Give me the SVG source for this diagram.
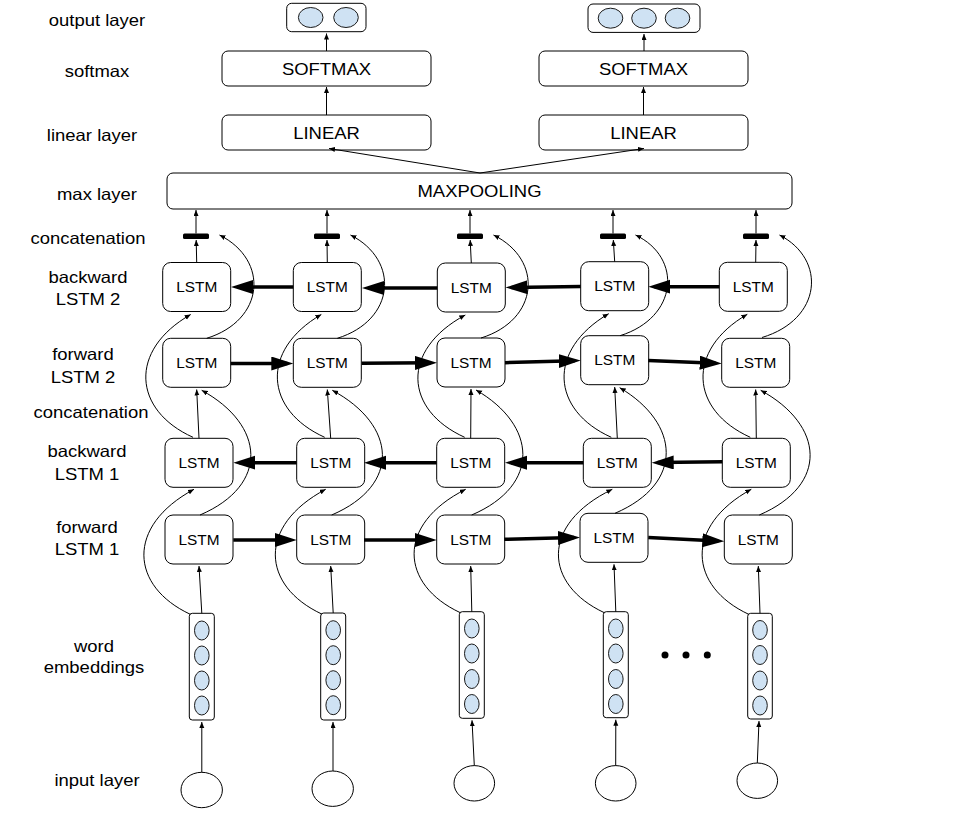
<svg xmlns="http://www.w3.org/2000/svg" width="960" height="815" viewBox="0 0 960 815">
<defs>
<style>
.box{fill:#fff;stroke:#000;stroke-width:1}
.neuron{fill:#cfe2f3;stroke:#1a1a1a;stroke-width:1}
.inp{fill:#fff;stroke:#000;stroke-width:1}
.bar{fill:#000}
.lbl{font-family:"Liberation Sans",Arial,sans-serif;font-size:16.5px;fill:#000;text-anchor:middle}
.btxt{font-family:"Liberation Sans",Arial,sans-serif;font-size:16.5px;fill:#000;text-anchor:middle}
.ltxt{font-family:"Liberation Sans",Arial,sans-serif;font-size:14px;fill:#000;text-anchor:middle}
.thin{fill:none;stroke:#000;stroke-width:1;marker-end:url(#ah)}
.thick{fill:none;stroke:#000;stroke-width:3.5;marker-end:url(#big)}
</style>
<marker id="ah" markerUnits="userSpaceOnUse" markerWidth="7" markerHeight="6" refX="6" refY="2.5" orient="auto">
<path d="M0,0 L6,2.5 L0,5 z" fill="#000"/>
</marker>
<marker id="big" markerUnits="userSpaceOnUse" markerWidth="23" markerHeight="15" refX="16" refY="7" orient="auto">
<path d="M0,0 L22,7 L0,14 z" fill="#000"/>
</marker>
</defs>
<rect x="0" y="0" width="960" height="815" fill="#fff"/>

<g id="labels">
<text class="lbl" transform="translate(97,26) scale(1.12,1)">output layer</text>
<text class="lbl" transform="translate(97,77) scale(1.12,1)">softmax</text>
<text class="lbl" transform="translate(92,141) scale(1.12,1)">linear layer</text>
<text class="lbl" transform="translate(97,200) scale(1.12,1)">max layer</text>
<text class="lbl" transform="translate(88,244) scale(1.12,1)">concatenation</text>
<text class="lbl" transform="translate(88,283) scale(1.12,1)">backward</text>
<text class="lbl" transform="translate(88,305) scale(1.12,1)">LSTM 2</text>
<text class="lbl" transform="translate(83,360) scale(1.12,1)">forward</text>
<text class="lbl" transform="translate(83,383) scale(1.12,1)">LSTM 2</text>
<text class="lbl" transform="translate(91,418) scale(1.12,1)">concatenation</text>
<text class="lbl" transform="translate(87,457) scale(1.12,1)">backward</text>
<text class="lbl" transform="translate(87,480) scale(1.12,1)">LSTM 1</text>
<text class="lbl" transform="translate(87,533) scale(1.12,1)">forward</text>
<text class="lbl" transform="translate(87,555) scale(1.12,1)">LSTM 1</text>
<text class="lbl" transform="translate(94,652) scale(1.12,1)">word</text>
<text class="lbl" transform="translate(94,673) scale(1.12,1)">embeddings</text>
<text class="lbl" transform="translate(97,786) scale(1.12,1)">input layer</text>
</g>

<g id="out1">
<rect class="box" x="286.7" y="3.3" width="79.3" height="28.4" rx="5"/>
<ellipse class="neuron" cx="310.7" cy="17.5" rx="12.3" ry="10"/>
<ellipse class="neuron" cx="346" cy="17.5" rx="12.3" ry="10"/>
</g>
<g id="out2">
<rect class="box" x="588" y="4" width="112" height="28.4" rx="5"/>
<ellipse class="neuron" cx="610.5" cy="18.2" rx="12.3" ry="10"/>
<ellipse class="neuron" cx="644" cy="18.2" rx="12.3" ry="10"/>
<ellipse class="neuron" cx="677.5" cy="18.2" rx="12.3" ry="10"/>
</g>
<g id="softmax1"><rect class="box" x="222" y="51" width="209" height="35" rx="6"/><text class="btxt" transform="translate(326.5,74.5) scale(1.12,1)">SOFTMAX</text></g>
<g id="softmax2"><rect class="box" x="539" y="51" width="209" height="35" rx="6"/><text class="btxt" transform="translate(643.5,74.5) scale(1.12,1)">SOFTMAX</text></g>
<g id="linear1"><rect class="box" x="222" y="115" width="209" height="35" rx="6"/><text class="btxt" transform="translate(326.5,138.5) scale(1.12,1)">LINEAR</text></g>
<g id="linear2"><rect class="box" x="539" y="115" width="209" height="35" rx="6"/><text class="btxt" transform="translate(643.5,138.5) scale(1.12,1)">LINEAR</text></g>
<g id="maxpool"><rect class="box" x="167" y="173" width="625" height="36" rx="6"/><text class="btxt" transform="translate(479.5,197) scale(1.12,1)">MAXPOOLING</text></g>

<g id="concat1"><rect class="bar" x="183" y="233.5" width="26" height="5.5" rx="1.5"/></g>
<g id="concat2"><rect class="bar" x="314" y="233.5" width="26" height="5.5" rx="1.5"/></g>
<g id="concat3"><rect class="bar" x="457" y="233.5" width="26" height="5.5" rx="1.5"/></g>
<g id="concat4"><rect class="bar" x="600" y="233.5" width="26" height="5.5" rx="1.5"/></g>
<g id="concat5"><rect class="bar" x="743" y="233.5" width="26" height="5.5" rx="1.5"/></g>

<g id="bwd2_1"><rect class="box" x="162.7" y="262.5" width="68" height="49" rx="8"/><text class="ltxt" transform="translate(196.7,292) scale(1.1,1)">LSTM</text></g>
<g id="bwd2_2"><rect class="box" x="293.3" y="262.5" width="68" height="49" rx="8"/><text class="ltxt" transform="translate(327.3,292) scale(1.1,1)">LSTM</text></g>
<g id="bwd2_3"><rect class="box" x="437.3" y="263" width="68" height="49" rx="8"/><text class="ltxt" transform="translate(471.3,292.5) scale(1.1,1)">LSTM</text></g>
<g id="bwd2_4"><rect class="box" x="580.7" y="261.7" width="68" height="49" rx="8"/><text class="ltxt" transform="translate(614.7,291.2) scale(1.1,1)">LSTM</text></g>
<g id="bwd2_5"><rect class="box" x="719.3" y="262.3" width="68" height="49" rx="8"/><text class="ltxt" transform="translate(753.3,291.8) scale(1.1,1)">LSTM</text></g>

<g id="fwd2_1"><rect class="box" x="162.7" y="338.3" width="68" height="49" rx="8"/><text class="ltxt" transform="translate(196.7,367.8) scale(1.1,1)">LSTM</text></g>
<g id="fwd2_2"><rect class="box" x="293.3" y="338.3" width="68" height="49" rx="8"/><text class="ltxt" transform="translate(327.3,367.8) scale(1.1,1)">LSTM</text></g>
<g id="fwd2_3"><rect class="box" x="437" y="338" width="68" height="49" rx="8"/><text class="ltxt" transform="translate(471,367.5) scale(1.1,1)">LSTM</text></g>
<g id="fwd2_4"><rect class="box" x="580.7" y="335.7" width="68" height="49" rx="8"/><text class="ltxt" transform="translate(614.7,365.2) scale(1.1,1)">LSTM</text></g>
<g id="fwd2_5"><rect class="box" x="721.7" y="338.3" width="68" height="49" rx="8"/><text class="ltxt" transform="translate(755.7,367.8) scale(1.1,1)">LSTM</text></g>

<g id="bwd1_1"><rect class="box" x="165" y="438.3" width="68" height="49" rx="8"/><text class="ltxt" transform="translate(199,467.8) scale(1.1,1)">LSTM</text></g>
<g id="bwd1_2"><rect class="box" x="296.7" y="438.3" width="68" height="49" rx="8"/><text class="ltxt" transform="translate(330.7,467.8) scale(1.1,1)">LSTM</text></g>
<g id="bwd1_3"><rect class="box" x="436.7" y="438.3" width="68" height="49" rx="8"/><text class="ltxt" transform="translate(470.7,467.8) scale(1.1,1)">LSTM</text></g>
<g id="bwd1_4"><rect class="box" x="583.3" y="438.3" width="68" height="49" rx="8"/><text class="ltxt" transform="translate(617.3,467.8) scale(1.1,1)">LSTM</text></g>
<g id="bwd1_5"><rect class="box" x="722.3" y="438.3" width="68" height="49" rx="8"/><text class="ltxt" transform="translate(756.3,467.8) scale(1.1,1)">LSTM</text></g>

<g id="fwd1_1"><rect class="box" x="165" y="515" width="68" height="49" rx="8"/><text class="ltxt" transform="translate(199,544.5) scale(1.1,1)">LSTM</text></g>
<g id="fwd1_2"><rect class="box" x="296.7" y="515" width="68" height="49" rx="8"/><text class="ltxt" transform="translate(330.7,544.5) scale(1.1,1)">LSTM</text></g>
<g id="fwd1_3"><rect class="box" x="436.7" y="515" width="68" height="49" rx="8"/><text class="ltxt" transform="translate(470.7,544.5) scale(1.1,1)">LSTM</text></g>
<g id="fwd1_4"><rect class="box" x="580" y="513.3" width="68" height="49" rx="8"/><text class="ltxt" transform="translate(614,542.8) scale(1.1,1)">LSTM</text></g>
<g id="fwd1_5"><rect class="box" x="724.3" y="515" width="68" height="49" rx="8"/><text class="ltxt" transform="translate(758.3,544.5) scale(1.1,1)">LSTM</text></g>

<g id="emb1"><rect class="box" x="189.3" y="613.3" width="25" height="106.7" rx="3"/>
<ellipse class="neuron" cx="201.8" cy="630.5" rx="7.3" ry="9.5"/><ellipse class="neuron" cx="201.8" cy="655.5" rx="7.3" ry="9.5"/><ellipse class="neuron" cx="201.8" cy="680.5" rx="7.3" ry="9.5"/><ellipse class="neuron" cx="201.8" cy="705.5" rx="7.3" ry="9.5"/></g>
<g id="emb2"><rect class="box" x="320.7" y="613" width="25" height="107" rx="3"/>
<ellipse class="neuron" cx="333.2" cy="630.2" rx="7.3" ry="9.5"/><ellipse class="neuron" cx="333.2" cy="655.2" rx="7.3" ry="9.5"/><ellipse class="neuron" cx="333.2" cy="680.2" rx="7.3" ry="9.5"/><ellipse class="neuron" cx="333.2" cy="705.2" rx="7.3" ry="9.5"/></g>
<g id="emb3"><rect class="box" x="459.3" y="611.7" width="25" height="106.6" rx="3"/>
<ellipse class="neuron" cx="471.8" cy="628.5" rx="7.3" ry="9.5"/><ellipse class="neuron" cx="471.8" cy="653.5" rx="7.3" ry="9.5"/><ellipse class="neuron" cx="471.8" cy="679" rx="7.3" ry="9.5"/><ellipse class="neuron" cx="471.8" cy="704" rx="7.3" ry="9.5"/></g>
<g id="emb4"><rect class="box" x="603.3" y="611.7" width="25" height="106" rx="3"/>
<ellipse class="neuron" cx="615.8" cy="628.5" rx="7.3" ry="9.5"/><ellipse class="neuron" cx="615.8" cy="653.5" rx="7.3" ry="9.5"/><ellipse class="neuron" cx="615.8" cy="679" rx="7.3" ry="9.5"/><ellipse class="neuron" cx="615.8" cy="704" rx="7.3" ry="9.5"/></g>
<g id="emb5"><rect class="box" x="747.7" y="613.3" width="24.6" height="105.7" rx="3"/>
<ellipse class="neuron" cx="760" cy="630" rx="7.3" ry="9.5"/><ellipse class="neuron" cx="760" cy="655" rx="7.3" ry="9.5"/><ellipse class="neuron" cx="760" cy="680.5" rx="7.3" ry="9.5"/><ellipse class="neuron" cx="760" cy="705.5" rx="7.3" ry="9.5"/></g>

<g id="dots">
<circle cx="665" cy="655" r="3.5" fill="#000"/>
<circle cx="686" cy="655" r="3.5" fill="#000"/>
<circle cx="707.3" cy="655" r="3.5" fill="#000"/>
</g>

<g id="in1"><ellipse class="inp" cx="201.7" cy="790" rx="20.7" ry="17.7"/></g>
<g id="in2"><ellipse class="inp" cx="332.7" cy="788.7" rx="20.7" ry="17.7"/></g>
<g id="in3"><ellipse class="inp" cx="474.3" cy="783.3" rx="20.3" ry="17.7"/></g>
<g id="in4"><ellipse class="inp" cx="615.7" cy="783.3" rx="20.3" ry="17.7"/></g>
<g id="in5"><ellipse class="inp" cx="757.3" cy="780.7" rx="20.3" ry="17.7"/></g>

<g id="connectors">
<!-- top -->
<path class="thin" d="M326.5,51 L326.5,33.5"/>
<path class="thin" d="M644,51 L644,34"/>
<path class="thin" d="M326.5,115 L326.5,87"/>
<path class="thin" d="M643.5,115 L643.5,87"/>
<path class="thin" d="M480,173 L329,148.5"/>
<path class="thin" d="M480,173 L644,148.5"/>
<!-- concat to maxpool -->
<path class="thin" d="M196,233.5 L196,210"/>
<path class="thin" d="M327,233.5 L327,210"/>
<path class="thin" d="M470,233.5 L470,210"/>
<path class="thin" d="M613,233.5 L613,210"/>
<path class="thin" d="M756,233.5 L756,210"/>
<!-- backward2 to concat -->
<path class="thin" d="M196.7,262.5 L196.2,240"/>
<path class="thin" d="M327.3,262.5 L327,240"/>
<path class="thin" d="M471.3,263 L470.2,240"/>
<path class="thin" d="M614.7,261.7 L613.3,240"/>
<path class="thin" d="M755.7,262.3 L756,240"/>
<!-- forward2 curve to concat -->
<path class="thin" d="M206.7,338.3 C264.7,320.3 269.7,260.3 219.5,235"/>
<path class="thin" d="M337.3,338.3 C395.3,320.3 400.3,260.3 350.5,235"/>
<path class="thin" d="M481,338 C539,320 544,260 493.5,235"/>
<path class="thin" d="M620,335.7 C678,317.7 683,257.7 635.5,235"/>
<path class="thin" d="M762,337.5 C822,319.5 827,259.5 779.5,235"/>
<!-- backward1 straight to forward2 -->
<path class="thin" d="M199,438.3 L196.7,389.5"/>
<path class="thin" d="M330.7,438.3 L327.3,389.5"/>
<path class="thin" d="M470.7,438.3 L471,389"/>
<path class="thin" d="M617.3,438.3 L614.7,387"/>
<path class="thin" d="M756.3,438.3 L755.7,389.5"/>
<!-- forward1 curve to forward2 -->
<path class="thin" d="M200,515 C270,485 265,425 201.7,390.3"/>
<path class="thin" d="M331.7,515 C401.7,485 396.7,425 332.3,390.3"/>
<path class="thin" d="M471.7,515 C541.7,485 536.7,425 476,390"/>
<path class="thin" d="M615,513.3 C685,483.3 680,423.3 619.7,387.7"/>
<path class="thin" d="M759.3,515 C829.3,485 824.3,425 760.7,390.3"/>
<!-- backward1 curve to backward2 -->
<path class="thin" d="M193,437.3 C133,410.3 128,350.3 190.7,314.5"/>
<path class="thin" d="M324.7,437.3 C264.7,410.3 259.7,350.3 321.3,314.5"/>
<path class="thin" d="M464.7,437.3 C404.7,410.3 399.7,350.3 465.3,315"/>
<path class="thin" d="M611.3,437.3 C551.3,410.3 546.3,350.3 608.7,313.7"/>
<path class="thin" d="M750.3,437.3 C690.3,410.3 685.3,350.3 747.3,314.3"/>
<!-- embeddings straight to forward1 -->
<path class="thin" d="M201.8,613.3 L199,566"/>
<path class="thin" d="M333.2,613 L330.7,566"/>
<path class="thin" d="M471.8,611.7 L470.7,566"/>
<path class="thin" d="M615.8,611.7 L614,564.3"/>
<path class="thin" d="M760,613.3 L758.3,566"/>
<!-- embeddings curve to backward1 -->
<path class="thin" d="M190.3,614.3 C130.3,586.3 125.3,526.3 194,489.3"/>
<path class="thin" d="M321.7,614 C261.7,586 256.7,526 325.7,489.3"/>
<path class="thin" d="M460.3,612.7 C400.3,584.7 395.3,524.7 465.7,489.3"/>
<path class="thin" d="M604.3,612.7 C544.3,584.7 539.3,524.7 612.3,489.3"/>
<path class="thin" d="M748.7,614.3 C688.7,586.3 683.7,526.3 751.3,489.3"/>
<!-- input to embeddings -->
<path class="thin" d="M201.8,772.3 L201.8,722"/>
<path class="thin" d="M333,771 L333,722"/>
<path class="thin" d="M474.3,765.6 L472,720.3"/>
<path class="thin" d="M615.7,765.6 L615.8,719.7"/>
<path class="thin" d="M757.3,763 L759,721"/>
<!-- backward2 recurrent -->
<path class="thick" d="M293.3,287 L237,287"/>
<path class="thick" d="M437.3,288 L368,288"/>
<path class="thick" d="M580.7,286.5 L511.5,287.4"/>
<path class="thick" d="M719.3,286.7 L654.3,286.7"/>
<!-- forward2 recurrent -->
<path class="thick" d="M230.7,363.5 L287.3,363.5"/>
<path class="thick" d="M361.7,363.3 L431,362.8"/>
<path class="thick" d="M505,362.7 L574.7,360.7"/>
<path class="thick" d="M648.3,360.5 L715.7,363.3"/>
<!-- backward1 recurrent -->
<path class="thick" d="M296.7,462.7 L239.3,462.7"/>
<path class="thick" d="M436.7,462.7 L370,462.7"/>
<path class="thick" d="M583.3,462.7 L511,462.7"/>
<path class="thick" d="M722.3,461.7 L657.7,462.6"/>
<!-- forward1 recurrent -->
<path class="thick" d="M233.3,540 L290.7,540"/>
<path class="thick" d="M364,540 L430.7,540"/>
<path class="thick" d="M504.3,539.3 L574,537.6"/>
<path class="thick" d="M648.3,537.5 L718.3,541"/>
</g>
</svg>
